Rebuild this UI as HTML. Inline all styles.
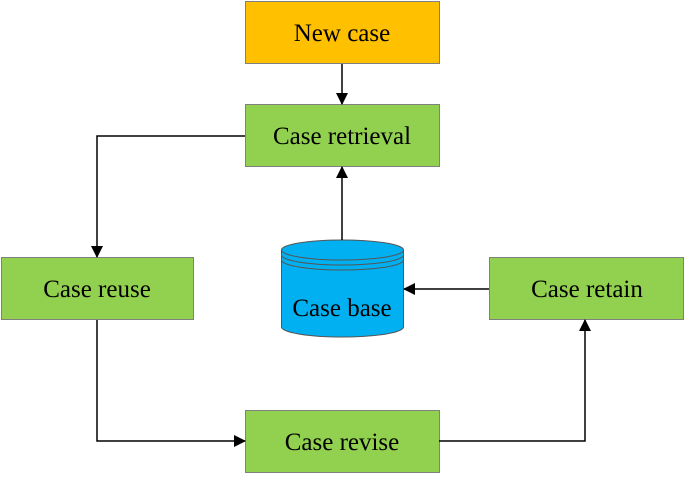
<!DOCTYPE html>
<html><head><style>
body{margin:0;background:#fff;width:685px;height:476px;overflow:hidden}
svg text{font-family:"Liberation Serif",serif;font-size:25px;text-anchor:middle}
</style></head><body>
<svg width="685" height="476" viewBox="0 0 685 476">
<defs><marker id="a" markerWidth="12" markerHeight="12" refX="11" refY="6" orient="auto" markerUnits="userSpaceOnUse"><path d="M0,0 L12,6 L0,12z" fill="#000"/></marker></defs>
<rect x="245.5" y="1.5" width="194" height="62" fill="#ffc000" stroke="#808080"/>
<text x="342" y="41">New case</text>
<rect x="245.5" y="104.5" width="194" height="62" fill="#92d050" stroke="#808080"/>
<text x="342" y="144">Case retrieval</text>
<rect x="1.5" y="257.5" width="192" height="62" fill="#92d050" stroke="#808080"/>
<text x="97" y="297">Case reuse</text>
<rect x="489.5" y="257.5" width="194" height="62" fill="#92d050" stroke="#808080"/>
<text x="587" y="297">Case retain</text>
<rect x="245.5" y="410.5" width="194" height="62" fill="#92d050" stroke="#808080"/>
<text x="342" y="450">Case revise</text>
<path d="M281.5,250 L281.5,327 A61,10 0 0 0 403.5,327 L403.5,250 A61,10 0 0 0 281.5,250 Z" fill="#00b0f0" stroke="#555"/>
<path d="M281.5,250 A61,10 0 0 0 403.5,250" fill="none" stroke="#555"/>
<path d="M281.5,255 A61,10 0 0 0 403.5,255" fill="none" stroke="#555"/>
<path d="M281.5,260 A61,10 0 0 0 403.5,260" fill="none" stroke="#555"/>
<text x="342" y="316">Case base</text>
<g stroke="#000" stroke-width="1.5" fill="none" marker-end="url(#a)">
<line x1="342" y1="64" x2="342" y2="104"/>
<line x1="342" y1="240" x2="342" y2="167"/>
<polyline points="245,136 97,136 97,257"/>
<polyline points="97,320 97,441 245,441"/>
<polyline points="439,441 585,441 585,320"/>
<line x1="489" y1="289" x2="404" y2="289"/>
</g>
</svg>
</body></html>
